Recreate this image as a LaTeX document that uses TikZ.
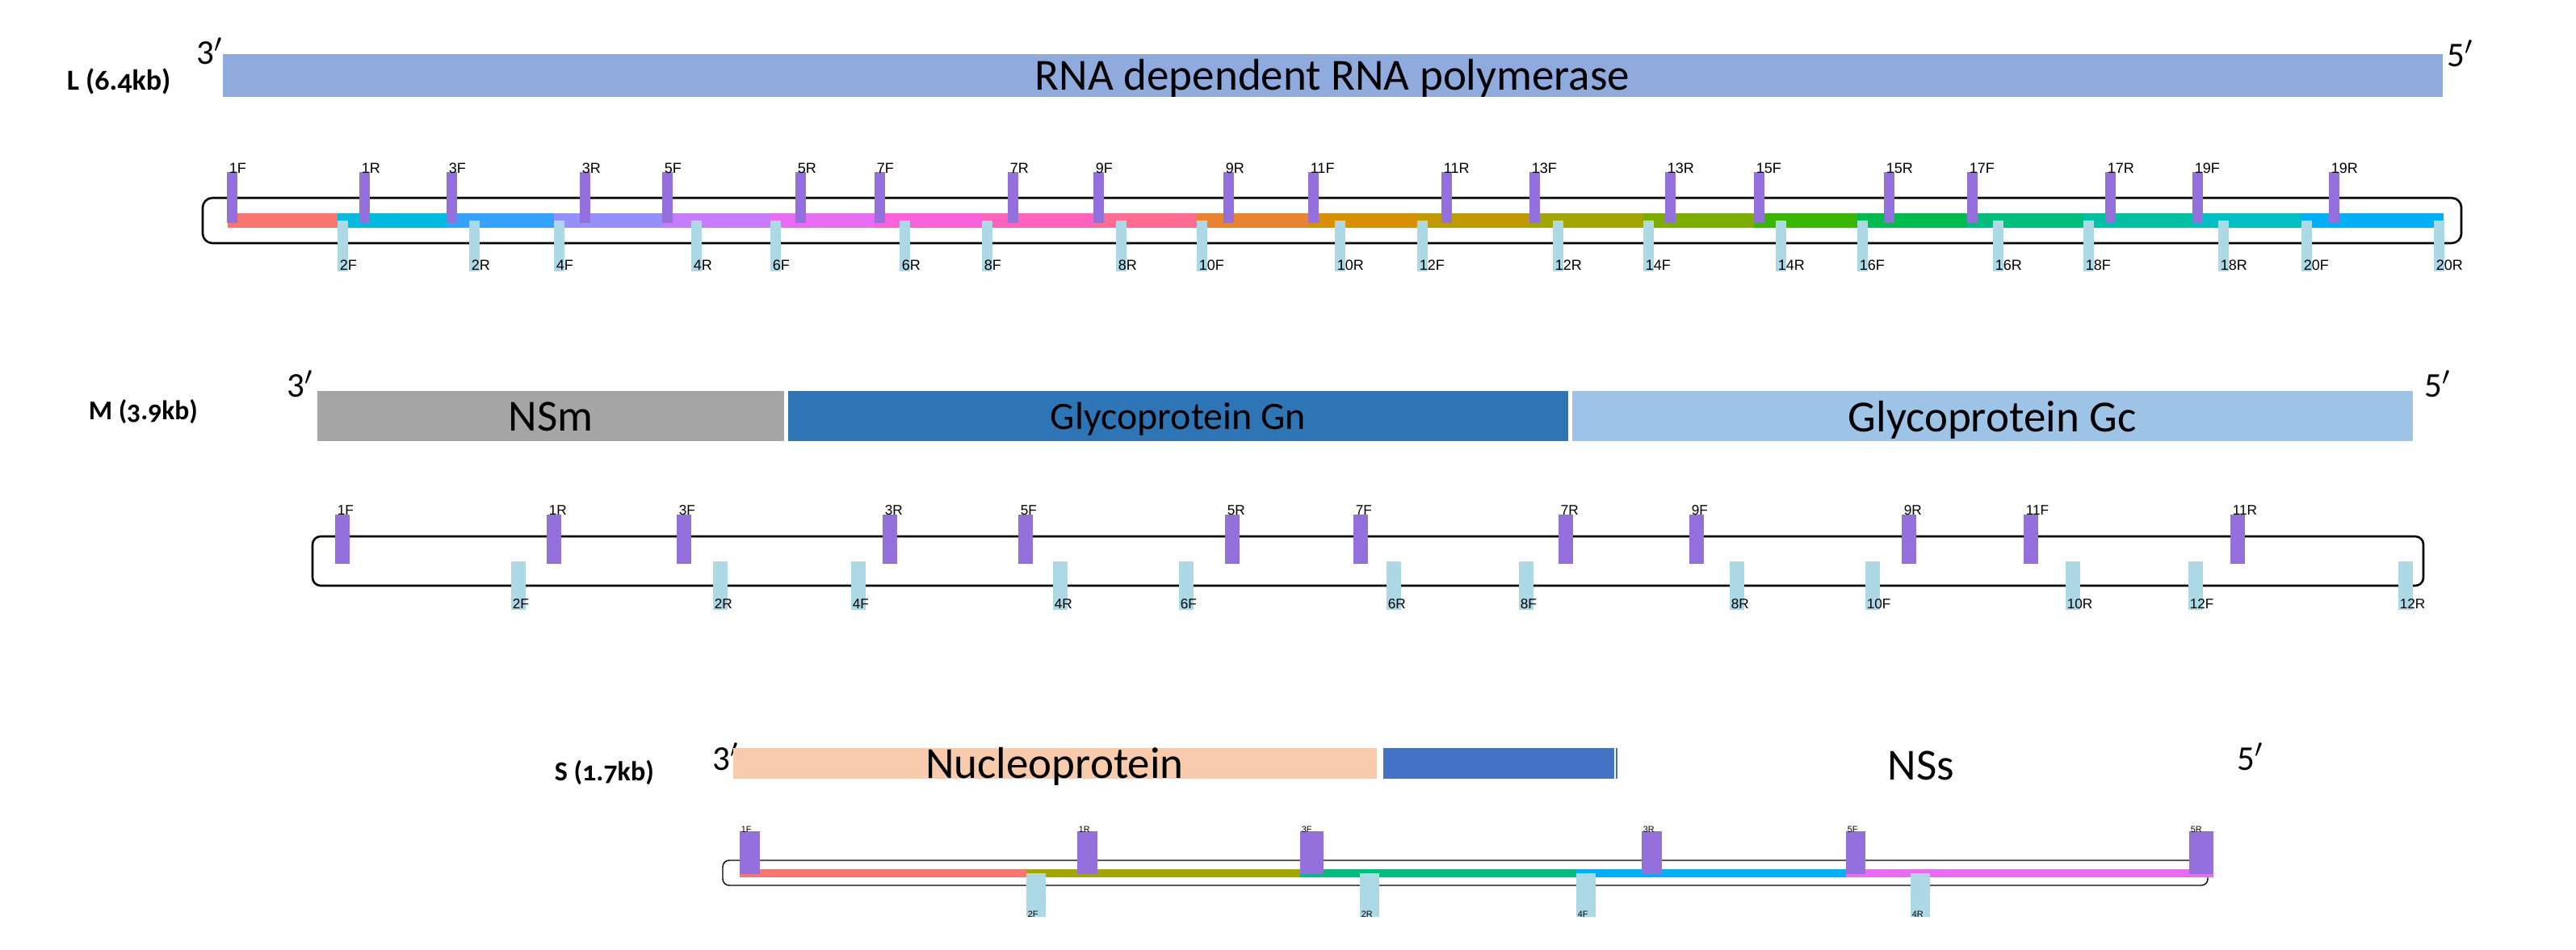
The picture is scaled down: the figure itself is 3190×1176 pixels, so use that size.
\documentclass[tikz,border=0pt]{standalone}
\usepackage{fontspec}
\setmainfont{Carlito}
\newfontfamily\labfont[Numbers=OldStyle]{Carlito}
\newfontfamily\arialfont{Liberation Sans}
\definecolor{primP}{HTML}{9370DB}
\definecolor{primB}{HTML}{ADD8E6}
\definecolor{lbar}{HTML}{8FAADC}
\definecolor{nsm}{HTML}{A5A5A5}
\definecolor{gn}{HTML}{2E75B6}
\definecolor{gc}{HTML}{9DC3E6}
\definecolor{nuc}{HTML}{F8CBAD}
\definecolor{nss}{HTML}{4472C4}
\tikzset{
  seglabel/.style={font=\labfont\bfseries\fontsize{#1}{#1}\selectfont, anchor=base west, inner sep=0pt},
  endmark/.style={font=\fontsize{10.75}{11}\selectfont, anchor=base west, inner sep=0pt},
  bartext/.style={font=\fontsize{#1}{#1}\selectfont, anchor=base, inner sep=0pt},
  plab/.style={font=\arialfont\fontsize{#1}{#1}\selectfont, anchor=base west, inner sep=0pt},
  genebox/.style={draw=black, line width=#1},
}
\begin{document}
\begin{tikzpicture}[x=0.25pt,y=-0.25pt]
\fill[white] (0,0) rectangle (3190,1176);

% ================= L segment =================
\node[seglabel=9] (Llab) at (82,112) {L (6.4kb)};
\node[endmark] (L3) at (243,80) {3$^\prime$};
\node[endmark] (L5) at (3030,83) {5$^\prime$};
\fill[lbar] (276,67) rectangle (3025,120);
\node[bartext=13.75] (Lrdrp) at (1650,112) {RNA dependent RNA polymerase};

\draw[genebox=0.65pt, rounded corners=3pt] (251,245) rectangle (3048,301);
\foreach \xa/\xb/\c in {282/418/F8766D, 418/553/00BAE0, 553/686/35A2FF, 686/820/9590FF,
  820/954/C77CFF, 954/1083/E76BF3, 1083/1216/FA62DB, 1216/1354/FF62BC, 1354/1482/FF6C91,
  1482/1620/EA8331, 1620/1755/D89000, 1755/1894/C09B00, 1894/2035/A3A500, 2035/2172/7CAE00,
  2172/2300/39B600, 2300/2436/00BB4E, 2436/2580/00BF7D, 2580/2715/00C1A3, 2715/2850/00BFC4,
  2850/3026/00B0F6}{
  \definecolor{segc}{HTML}{\c}
  \fill[segc] (\xa,264) rectangle (\xb,282);
}
\foreach \n/\x in {1F/281,1R/445,3F/553,3R/718,5F/820,5R/985,7F/1083,7R/1248,9F/1354,9R/1515,
  11F/1620,11R/1785,13F/1894,13R/2062,15F/2172,15R/2333,17F/2436,17R/2607,19F/2715,19R/2884}{
  \fill[primP] (\x,213) rectangle ++(13,63);
}
\foreach \n/\x in {2F/418,2R/581,4F/686,4R/856,6F/954,6R/1114,8F/1216,8R/1382,10F/1482,10R/1653,
  12F/1755,12R/1923,14F/2035,14R/2199,16F/2300,16R/2468,18F/2580,18R/2747,20F/2850,20R/3014}{
  \fill[primB] (\x,273) rectangle ++(13,63);
}
\foreach \n/\x in {1F/281,1R/445,3F/553,3R/718,5F/820,5R/985,7F/1083,7R/1248,9F/1354,9R/1515,
  11F/1620,11R/1785,13F/1894,13R/2062,15F/2172,15R/2333,17F/2436,17R/2607,19F/2715,19R/2884}{
  \node[plab=4.5] (Lp\n) at (\x+2,215) {\n};
}
\foreach \n/\x in {2F/418,2R/581,4F/686,4R/856,6F/954,6R/1114,8F/1216,8R/1382,10F/1482,10R/1653,
  12F/1755,12R/1923,14F/2035,14R/2199,16F/2300,16R/2468,18F/2580,18R/2747,20F/2850,20R/3014}{
  \node[plab=4.5] (Lp\n) at (\x+2,335) {\n};
}

% ================= M segment =================
\node[seglabel=8.4] (Mlab) at (109,520) {M (3.9kb)};
\node[endmark] (M3) at (355,492) {3$^\prime$};
\node[endmark] (M5) at (3002,492) {5$^\prime$};
\fill[nsm] (393,484) rectangle (971,546);
\fill[gn] (976,484) rectangle (1942,546);
\fill[gc] (1947,484) rectangle (2988,546);
\node[bartext=13.75] (Mnsm) at (682,534) {NSm};
\node[bartext=12] (Mgn) at (1459,531) {Glycoprotein Gn};
\node[bartext=13.75] (Mgc) at (2467,535) {Glycoprotein Gc};

\draw[genebox=0.65pt, rounded corners=2.5pt] (387,664) rectangle (3001,725);
\foreach \n/\x in {1F/415,1R/677,3F/838,3R/1093,5F/1261,5R/1517,7F/1676,7R/1930,9F/2092,9R/2355,11F/2506,11R/2762}{
  \fill[primP] (\x,637) rectangle ++(18,61);
}
\foreach \n/\x in {2F/633,2R/883,4F/1054,4R/1304,6F/1460,6R/1717,8F/1881,8R/2142,10F/2310,10R/2558,12F/2710,12R/2970}{
  \fill[primB] (\x,695) rectangle ++(18,60);
}
\foreach \n/\x in {1F/415,1R/677,3F/838,3R/1093,5F/1261,5R/1517,7F/1676,7R/1930,9F/2092,9R/2355,11F/2506,11R/2762}{
  \node[plab=4.3] (Mp\n) at (\x+2,638) {\n};
}
\foreach \n/\x in {2F/633,2R/883,4F/1054,4R/1304,6F/1460,6R/1717,8F/1881,8R/2142,10F/2310,10R/2558,12F/2710,12R/2970}{
  \node[plab=4.3] (Mp\n) at (\x+1,753) {\n};
}

% ================= S segment =================
\node[seglabel=8.5] (Slab) at (686,966) {S (1.7kb)};
\node[endmark] (S3) at (882,953) {3$^\prime$};
\node[endmark] (S5) at (2770,953) {5$^\prime$};
\fill[nuc] (908,926) rectangle (1705,964);
\fill[nss] (1713,926) rectangle (1999,964);
\fill[nss] (2001,926) rectangle (2003,964);
\node[bartext=13.75] (Snuc) at (1306,963) {Nucleoprotein};
\node[bartext=13.75] (Snss) at (2379,965) {NSs};

\draw[genebox=0.35pt, rounded corners=2pt] (895,1065) rectangle (2734,1096);
\foreach \xa/\xb/\c in {916/1271/F8766D, 1271/1610/A3A500, 1610/1952/00BF7D, 1952/2286/00B0F6, 2286/2741/E76BF3}{
  \definecolor{segc}{HTML}{\c}
  \fill[segc] (\xa,1076) rectangle (\xb,1086);
}
\foreach \n/\x/\w in {1F/916/25,1R/1334/25,3F/1610/29,3R/2033/25,5F/2286/24,5R/2711/30}{
  \fill[primP] (\x,1029) rectangle ++(\w,53);
}
\foreach \n/\x in {2F/1271,2R/1684,4F/1952,4R/2366}{
  \fill[primB] (\x,1081) rectangle ++(24,54);
}
\foreach \n/\x in {1F/916,1R/1334,3F/1610,3R/2033,5F/2286,5R/2711}{
  \node[plab=2.7] (Sp\n) at (\x+1,1030) {\n};
}
\foreach \n/\x in {2F/1271,2R/1684,4F/1952,4R/2366}{
  \node[plab=2.7] (Sp\n) at (\x+1,1135) {\n};
}
\end{tikzpicture}
\end{document}
